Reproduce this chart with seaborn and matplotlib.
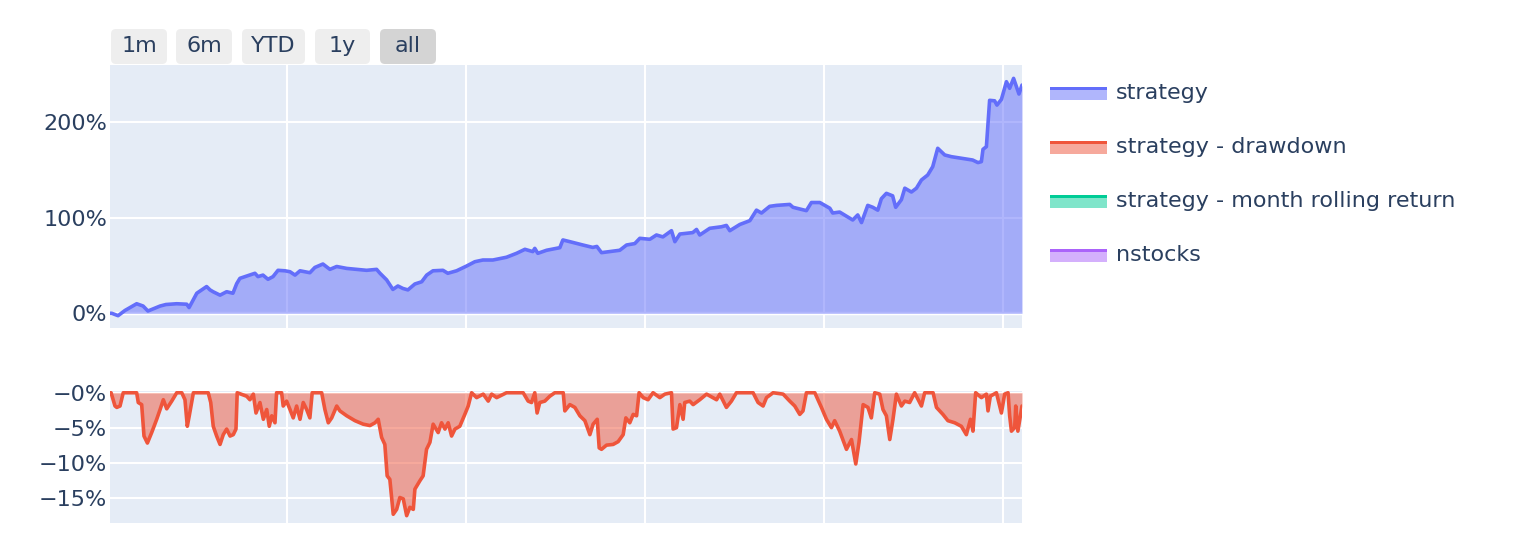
import numpy as np
import pandas as pd
import matplotlib.pyplot as plt
import seaborn as sns
from matplotlib.patches import FancyBboxPatch, Rectangle
from matplotlib.transforms import IdentityTransform

# cumulative return of the strategy, x as decimal years after 2018-01-01
strategy_year = [0.011, 0.021, 0.056, 0.095, 0.160, 0.196, 0.223, 0.291, 0.324, 0.384, 0.440, 0.453,
                 0.496, 0.551, 0.570, 0.587, 0.626, 0.663, 0.698, 0.719, 0.737, 0.775, 0.821, 0.838,
                 0.866, 0.894, 0.922, 0.950, 0.989, 1.017, 1.045, 1.073, 1.128, 1.156, 1.201, 1.240,
                 1.278, 1.334, 1.389, 1.445, 1.501, 1.520, 1.557, 1.592, 1.620, 1.648, 1.676, 1.715,
                 1.753, 1.781, 1.816, 1.872, 1.899, 1.948, 2.004, 2.050, 2.095, 2.151, 2.227, 2.283,
                 2.330, 2.374, 2.385, 2.402, 2.451, 2.525, 2.542, 2.581, 2.654, 2.709, 2.732, 2.758,
                 2.821, 2.860, 2.898, 2.944, 2.972, 3.028, 3.065, 3.101, 3.149, 3.168, 3.196, 3.268,
                 3.289, 3.307, 3.363, 3.428, 3.456, 3.475, 3.531, 3.587, 3.624, 3.652, 3.698, 3.736,
                 3.810, 3.828, 3.903, 3.931, 3.978, 4.034, 4.050, 4.089, 4.162, 4.190, 4.211, 4.246,
                 4.274, 4.302, 4.322, 4.350, 4.385, 4.402, 4.434, 4.453, 4.490, 4.518, 4.546, 4.581,
                 4.609, 4.637, 4.676, 4.713, 4.760, 4.832, 4.862, 4.881, 4.890, 4.909, 4.927, 4.955,
                 4.968, 4.993, 5.021, 5.039, 5.061, 5.091, 5.108]
strategy_return = [0, 0, -2.5, 3, 10, 7.6, 2.4, 7.6, 9.2, 10, 9.5, 6,
                   21, 28, 24.5, 22.6, 19, 22.6, 21, 31, 36.6, 39, 41.9, 38.4,
                   40, 35.6, 38.4, 45, 44.5, 43.5, 40, 44.5, 42.5, 48, 51.6, 46,
                   49, 47, 46, 45, 46, 41.9, 35, 25, 28.6, 26, 24.5, 30.7,
                   33, 40, 44.5, 45, 41.9, 44.5, 49.5, 54, 55.8, 55.8, 58.7, 62.8,
                   67, 64.6, 68, 62.8, 66, 68.7, 76.8, 75, 71.5, 69, 70, 63.5,
                   65, 66, 71.5, 73, 78.5, 77.5, 82, 80, 86.5, 75, 83, 84.5,
                   87.8, 82, 89, 90.6, 92, 86.5, 93, 97, 108, 105, 112, 113,
                   114, 111, 107.5, 116, 116, 110, 105, 106, 97.7, 103, 95, 113,
                   111, 108, 120, 125.6, 123, 111, 119, 131, 127, 131, 139.6, 144.8,
                   153.5, 172.8, 165.8, 164, 162.6, 160.5, 157.8, 158.8, 171.7, 174.5, 223, 222.5,
                   218, 224, 242.5, 235.6, 246, 229.6, 239]

# drawdown of the strategy in percent
drawdown_year = [0.011, 0.017, 0.039, 0.049, 0.067, 0.085, 0.141, 0.160, 0.169, 0.188, 0.201, 0.220,
                 0.244, 0.272, 0.291, 0.309, 0.328, 0.356, 0.384, 0.412, 0.430, 0.443, 0.454, 0.477,
                 0.560, 0.574, 0.588, 0.607, 0.626, 0.644, 0.663, 0.682, 0.700, 0.715, 0.722, 0.775,
                 0.793, 0.812, 0.827, 0.849, 0.868, 0.887, 0.901, 0.915, 0.933, 0.942, 0.970, 0.979,
                 0.998, 1.017, 1.035, 1.054, 1.073, 1.091, 1.110, 1.128, 1.141, 1.194, 1.212, 1.231,
                 1.250, 1.278, 1.296, 1.334, 1.380, 1.426, 1.464, 1.492, 1.510, 1.529, 1.547, 1.560,
                 1.575, 1.594, 1.613, 1.631, 1.650, 1.669, 1.687, 1.706, 1.715, 1.743, 1.761, 1.780,
                 1.799, 1.817, 1.845, 1.864, 1.883, 1.901, 1.920, 1.939, 1.966, 1.994, 2.013, 2.032,
                 2.060, 2.097, 2.125, 2.144, 2.172, 2.227, 2.320, 2.348, 2.367, 2.385, 2.398, 2.413,
                 2.441, 2.469, 2.497, 2.544, 2.553, 2.581, 2.609, 2.637, 2.665, 2.693, 2.711, 2.734,
                 2.745, 2.758, 2.786, 2.823, 2.851, 2.879, 2.894, 2.916, 2.935, 2.954, 2.968, 2.991,
                 3.018, 3.046, 3.084, 3.112, 3.149, 3.158, 3.177, 3.196, 3.214, 3.223, 3.251, 3.270,
                 3.307, 3.345, 3.401, 3.419, 3.456, 3.484, 3.512, 3.605, 3.633, 3.661, 3.680, 3.717,
                 3.773, 3.810, 3.838, 3.866, 3.884, 3.903, 3.950, 3.987, 4.015, 4.043, 4.061, 4.089,
                 4.127, 4.155, 4.179, 4.197, 4.220, 4.247, 4.266, 4.285, 4.313, 4.331, 4.350, 4.369,
                 4.387, 4.406, 4.434, 4.453, 4.480, 4.508, 4.546, 4.564, 4.611, 4.630, 4.666, 4.694,
                 4.732, 4.769, 4.797, 4.820, 4.834, 4.849, 4.881, 4.909, 4.918, 4.931, 4.965, 4.993,
                 5.011, 5.030, 5.039, 5.049, 5.067, 5.073, 5.085, 5.108]
drawdown_pct = [0, 0, -1.9, -2.1, -1.9, 0, 0, 0, -1.4, -1.7, -6.2, -7.2,
                -5.7, -3.8, -2.4, -1, -2.3, -1.2, 0, 0, -1, -4.8, -3.3, 0,
                0, -1.4, -4.8, -6.2, -7.4, -6, -5.2, -6.2, -6, -5.2, 0, -0.5,
                -1, -0.2, -2.9, -1.4, -3.8, -2.4, -4.8, -3.3, -4.3, 0, 0, -1.9,
                -1.2, -2.4, -3.6, -1.9, -3.8, -1.4, -2.4, -3.6, 0, 0, -2.4, -4.3,
                -3.6, -1.9, -2.6, -3.3, -4, -4.5, -4.7, -4.3, -3.8, -6.4, -7.4, -11.9,
                -12.4, -17.4, -16.7, -15, -15.2, -17.6, -16.4, -16.7, -13.8, -12.6, -11.9, -8.1,
                -7.1, -4.5, -5.7, -4.3, -5.2, -4.3, -6.2, -5.2, -4.8, -3.1, -1.9, 0,
                -0.7, -0.2, -1.2, -0.2, -0.7, 0, 0, -1.2, -1.4, 0, -2.9, -1.4,
                -1.2, -0.5, 0, 0, -2.6, -1.7, -2.1, -3.3, -4, -6, -4.5, -3.8,
                -7.9, -8.1, -7.5, -7.4, -7, -6, -3.6, -4.3, -3.1, -3.3, 0, -0.7,
                -1, 0, -0.7, -0.2, 0, -5.2, -5, -1.7, -3.8, -1.4, -1.2, -1.7,
                -1, -0.2, -1, -0.2, -2.1, -1.2, 0, 0, -1.4, -1.9, -0.7, 0,
                -0.2, -1.2, -1.9, -3.1, -2.6, 0, 0, -2.1, -3.8, -5, -4, -5.5,
                -8.1, -6.7, -10.2, -7.1, -1.7, -2.1, -3.6, 0, -0.2, -2.4, -3.3, -6.7,
                -3.8, -0.2, -1.9, -1.2, -1.4, 0, -1.9, 0, 0, -2.1, -3.1, -4,
                -4.3, -4.8, -6, -3.8, -5.5, 0, -0.7, -0.2, -2.6, -0.5, 0, -2.9,
                -0.2, 0, -3.3, -5.5, -5, -1.9, -5.5, -1.9]

top_ticks = [0, 100, 200]
top_tick_labels = ["0%", "100%", "200%"]
dd_ticks = [0, -5, -10, -15]
dd_tick_labels = ["\u22120%", "\u22125%", "\u221210%", "\u221215%"]
legend_labels = ["strategy", "strategy - drawdown", "strategy - month rolling return", "nstocks"]
legend_colors = ["#636EFA", "#EF553B", "#00CC96", "#AB63FA"]
range_buttons = ["1m", "6m", "YTD", "1y", "all"]


def to_date(years):
    return pd.Timestamp("2018-01-01") + pd.to_timedelta(np.asarray(years) * 365.25, unit="D")


df_ret = pd.DataFrame({"date": to_date(strategy_year), "ret": strategy_return})
df_dd = pd.DataFrame({"date": to_date(drawdown_year), "dd": drawdown_pct})
year_starts = pd.to_datetime(["2019-01-01", "2020-01-01", "2021-01-01", "2022-01-01", "2023-01-01"])

sns.set_theme(style="darkgrid", rc={
    "axes.facecolor": "#E5ECF6",
    "grid.color": "white",
    "grid.linewidth": 1.5,
})
plt.rcParams["font.family"] = ["DejaVu Sans"]
text_color = "#2a3f5f"

W, H = 1536, 551
fig = plt.figure(figsize=(W / 100, H / 100), dpi=100)
fig.patch.set_facecolor("white")
ax1 = fig.add_axes([110 / W, 1 - 328 / H, 912 / W, 263 / H])
ax2 = fig.add_axes([110 / W, 1 - 523 / H, 912 / W, 132 / H])

# top: cumulative return
ax1.fill_between(df_ret["date"], 0, df_ret["ret"], color=legend_colors[0], alpha=0.5, lw=0, zorder=2)
sns.lineplot(data=df_ret, x="date", y="ret", ax=ax1, color=legend_colors[0], lw=2.6, zorder=3)
ax1.axhline(0, color="white", lw=2.5, zorder=1)
ax1.set_ylim(-15.4, 260)

# bottom: drawdown
ax2.fill_between(df_dd["date"], 0, df_dd["dd"], color=legend_colors[1], alpha=0.5, lw=0, zorder=2)
sns.lineplot(data=df_dd, x="date", y="dd", ax=ax2, color=legend_colors[1], lw=2.6, zorder=3)
ax2.set_ylim(-18.65, 0.25)

xmin, xmax = df_ret["date"].min(), df_ret["date"].max()
for ax, ticks, labels in [(ax1, top_ticks, top_tick_labels), (ax2, dd_ticks, dd_tick_labels)]:
    ax.set_xlim(xmin, xmax)
    ax.set_xticks(year_starts)
    ax.set_xticklabels([])
    ax.set_yticks(ticks)
    ax.set_yticklabels(labels)
    ax.set_xlabel("")
    ax.set_ylabel("")
    ax.tick_params(length=0, pad=2, labelsize=16, labelcolor=text_color)
    for s in ax.spines.values():
        s.set_visible(False)

# legend on the right, plotly style
px = IdentityTransform()
for i, (lab, col) in enumerate(zip(legend_labels, legend_colors)):
    yc = 93 + i * 54
    fig.add_artist(Rectangle((1050, H - yc - 7), 57, 10, transform=px, facecolor=col,
                             alpha=0.5, lw=0))
    fig.add_artist(Rectangle((1050, H - yc + 3), 57, 3.5, transform=px, facecolor=col, lw=0))
    fig.text(1116, H - yc, lab, transform=px, fontsize=16, color=text_color,
             ha="left", va="center")

# range selector buttons
btn_x = [111, 176, 242, 315, 380]
btn_w = [56, 56, 63, 55, 56]
for lab, bx, bw in zip(range_buttons, btn_x, btn_w):
    face = "#D4D4D4" if lab == "all" else "#EEEEEE"
    fig.add_artist(FancyBboxPatch((bx, H - 64), bw, 35, transform=px,
                                  boxstyle="round,pad=0,rounding_size=5",
                                  facecolor=face, edgecolor="none"))
    fig.text(bx + bw / 2, H - 46.5, lab, transform=px, fontsize=16, color=text_color,
             ha="center", va="center")

fig.savefig("out.png", dpi=100)
